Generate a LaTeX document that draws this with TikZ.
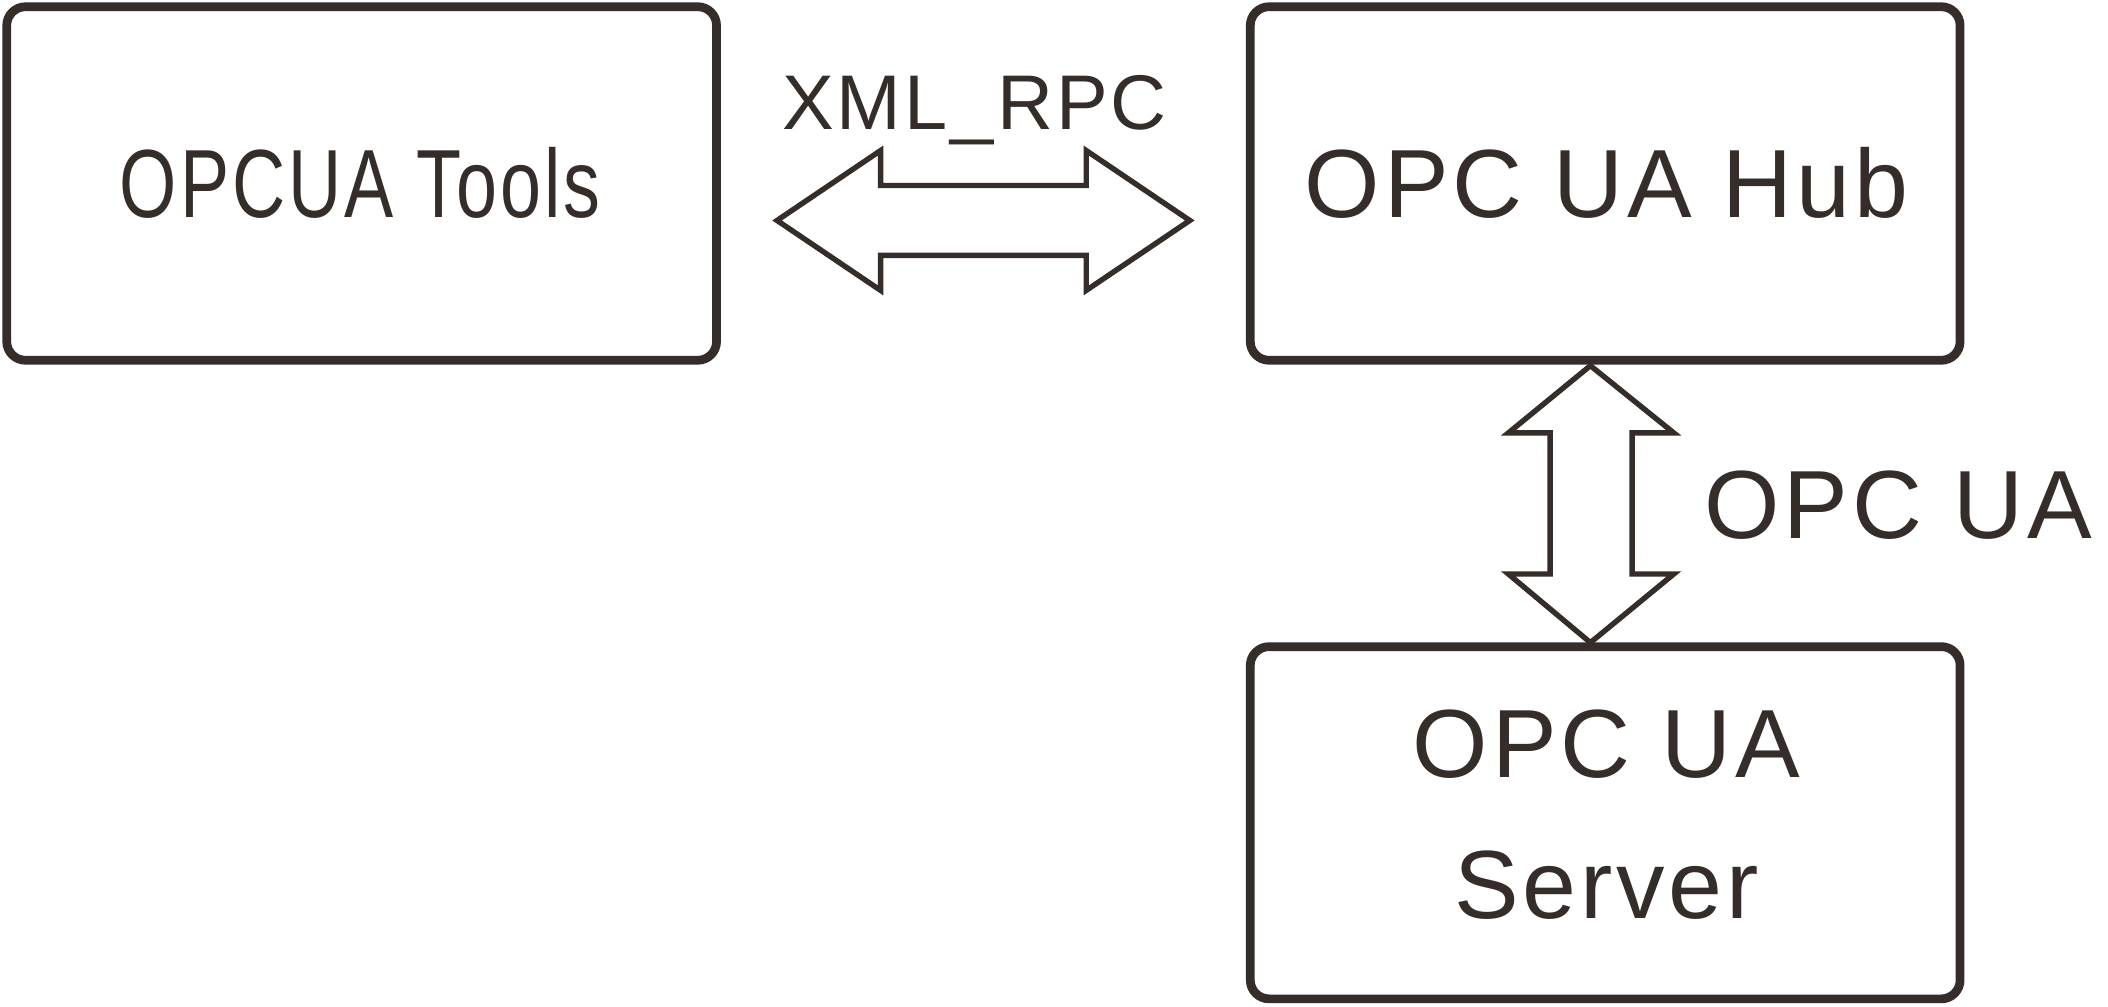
\documentclass[tikz,border=0pt]{standalone}
\usepackage{fontspec}
\setmainfont{Liberation Sans}[LetterSpace=4]
\begin{document}
\begin{tikzpicture}[x=0.01cm,y=-0.01cm,
  box/.style={draw={rgb,255:red,52;green,45;blue,42},line width=0.65mm,rounded corners=0.14cm,inner sep=0},
  lbl/.style={text={rgb,255:red,52;green,45;blue,42},font=\fontsize{20.5pt}{30pt}\selectfont,align=center},
  arr/.style={draw={rgb,255:red,52;green,45;blue,42},line width=0.4mm,fill=white}]
\useasboundingbox (0,0) rectangle (1568,749);
\draw[box] (5,5) rectangle (533,268);
\draw[box] (930,5) rectangle (1458,268);
\draw[box] (930,481) rectangle (1458,743);
\node[lbl,xscale=0.76] (t) at (268,136) {OPCUA Tools};
\node[lbl] (h) at (1195,136) {OPC UA Hub};
\node[lbl] (s) at (1195,606) {OPC UA\\Server};
\draw[arr] (578,164) -- (655,112) -- (655,138) -- (808,138) -- (808,112) -- (885,164) -- (808,216) -- (808,190) -- (655,190) -- (655,216) -- cycle;
\draw[arr] (1183,272) -- (1245,322) -- (1214,322) -- (1214,427) -- (1245,427) -- (1183,478) -- (1122,427) -- (1153,427) -- (1153,322) -- (1122,322) -- cycle;
\node[lbl,scale=0.8] (x) at (725,82) {XML\_RPC};
\node[lbl] (o) at (1412,376) {OPC UA};
\end{tikzpicture}
\end{document}
